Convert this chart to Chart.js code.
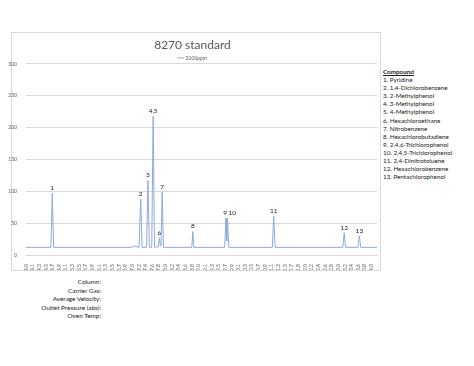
<!DOCTYPE html>
<html>
<head>
<meta charset="utf-8">
<script src="https://cdn.jsdelivr.net/npm/chart.js@4/dist/chart.umd.min.js"></script>
<style>
  body { margin: 0; background: #fff; font-family: Lato, "Liberation Sans", sans-serif; }
  #frame { position: absolute; left: 11px; top: 32px; width: 368px; height: 237px; border: 1px solid #d9d9d9; }
  #wrap { position: absolute; left: 8px; top: 32px; width: 372px; height: 238px; }
  #compounds { position: absolute; left: 383px; top: 68px; font-size: 6.3px; line-height: 8.1px; color: #222; }
  #compounds .head { font-weight: bold; text-decoration: underline; }
  #meta { position: absolute; left: 0; top: 278px; width: 101px; text-align: right; font-size: 6.4px; line-height: 8.5px; color: #222; }
</style>
</head>
<body>
<div id="frame"></div>
<div id="wrap"><canvas id="gc"></canvas></div>
<div id="compounds"></div>
<div id="meta"></div>
<script>
// retention time (min) / signal
const times  = [4.00, 4.72, 4.76, 4.80, 7.05, 7.15, 7.27, 7.32, 7.36, 7.49, 7.53, 7.57, 7.64, 7.68, 7.72,
                7.83, 7.86, 7.89, 7.91, 7.94, 7.98, 8.80, 8.83, 8.86, 9.75, 9.79, 9.81, 9.83, 9.87,
                11.13, 11.17, 11.21, 13.17, 13.21, 13.25, 13.61, 13.65, 13.69, 14.16];
const signal = [12, 12, 97, 12, 12, 14, 12, 88, 12, 12, 117, 12, 12, 218, 12,
                13, 27, 14, 15, 99, 12, 12, 37, 12, 12, 58, 22, 58, 12,
                12, 61, 12, 12, 35, 12, 12, 30, 12, 12];

const peakTimes  = [4.76, 7.32, 7.53, 7.68, 7.86, 7.94, 8.83, 9.79, 9.83, 11.17, 13.21, 13.65];
const peakHeight = [97, 88, 117, 218, 27, 99, 37, 58, 58, 61, 35, 30];
const peakLabels = ["1", "2", "3", "4,5", "6", "7", "8", "9", "10", "11", "12", "13"];
const peakAlign  = ["center", "center", "center", "center", "center", "center", "center", "right", "left", "center", "center", "center"];

const tickLabels = ["4.0","4.1","4.3","4.5","4.7","4.9","5.1","5.3","5.5","5.7","5.9","6.1","6.3","6.5","6.7","6.9",
  "7.0","7.2","7.4","7.6","7.8","8.0","8.2","8.4","8.6","8.8","9.0","9.1","9.3","9.5","9.7","9.9",
  "10.1","10.3","10.5","10.7","10.9","11.1","11.3","11.5","11.7","11.8","12.0","12.2","12.4","12.6",
  "12.8","13.0","13.2","13.4","13.6","13.8","14.0"];

const compounds = ["1. Pyridine", "2. 1,4-Dichlorobenzene", "3. 2-Methylphenol", "4. 3-Methylphenol",
  "5. 4-Methylphenol", "6. Hexachloroethane", "7. Nitrobenzene", "8. Hexachlorobutadiene",
  "9. 2,4,6-Trichlorophenol", "10. 2,4,5-Trichlorophenol", "11. 2,4-Dinitrotoluene",
  "12. Hexachlorobenzene", "13. Pentachlorophenol"];
const metaRows = ["Column:", "Carrier Gas:", "Average Velocity:", "Outlet Pressure (abs):", "Oven Temp:"];

document.getElementById("compounds").innerHTML =
  '<div class="head">Compound</div>' + compounds.map(c => "<div>" + c + "</div>").join("");
document.getElementById("meta").innerHTML = metaRows.map(r => "<div>" + r + "</div>").join("");

const FONT = "Lato, 'Liberation Sans', sans-serif";

const peakLabelPlugin = {
  id: "peakLabels",
  afterDatasetsDraw(chart) {
    const { ctx, scales: { x, y } } = chart;
    ctx.save();
    ctx.font = "6.5px " + FONT;
    ctx.fillStyle = "#222";
    ctx.textBaseline = "bottom";
    peakTimes.forEach((t, i) => {
      ctx.textAlign = peakAlign[i];
      const px = x.getPixelForValue(t) + (peakAlign[i] === "right" ? 1 : peakAlign[i] === "left" ? 1 : 0);
      ctx.fillText(peakLabels[i], px, y.getPixelForValue(peakHeight[i]) - 2);
    });
    ctx.restore();
  }
};

// keep the legend strip thin, like the spreadsheet original
const legendHeightPlugin = {
  id: "legendHeight",
  beforeLayout(chart) {
    const lg = chart.legend;
    if (!lg || lg._thin) return;
    const fit = lg.fit;
    lg.fit = function () { fit.call(this); this.height = 11.5; };
    lg._thin = true;
  }
};

new Chart(document.getElementById("gc"), {
  type: "line",
  plugins: [peakLabelPlugin, legendHeightPlugin],
  data: {
    datasets: [{
      label: "2000ppm",
      data: times.map((t, i) => ({ x: t, y: signal[i] })),
      borderColor: "#8eaadb",
      backgroundColor: "#8eaadb",
      borderWidth: 1,
      pointRadius: 0,
      tension: 0
    }]
  },
  options: {
    responsive: true,
    maintainAspectRatio: false,
    animation: false,
    layout: { padding: { left: 0, right: 3, top: 0, bottom: 0 } },
    plugins: {
      title: {
        display: true,
        text: "8270 standard",
        color: "#595959",
        font: { family: FONT, size: 12, weight: "normal" },
        padding: { top: 6, bottom: 0 }
      },
      legend: {
        display: true,
        labels: {
          color: "#595959",
          font: { family: FONT, size: 5 },
          usePointStyle: true,
          pointStyle: "line",
          boxWidth: 12,
          padding: 3
        }
      },
      tooltip: { enabled: false }
    },
    scales: {
      x: {
        type: "linear",
        min: 4.0,
        max: 14.16,
        afterBuildTicks: axis => {
          axis.ticks = tickLabels.map((l, i) => ({ value: 4 + i * 10 / 52 }));
        },
        afterFit: axis => { axis.height = 15; },
        ticks: {
          color: "#595959",
          font: { family: FONT, size: 5 },
          maxRotation: 90,
          minRotation: 90,
          autoSkip: false,
          padding: 1,
          callback: (v, i) => tickLabels[i]
        },
        grid: { display: false },
        border: { color: "#d9d9d9" }
      },
      y: {
        min: 0,
        max: 300,
        afterFit: axis => { axis.width = 18; },
        ticks: {
          stepSize: 50,
          color: "#595959",
          font: { family: FONT, size: 5 },
          padding: 9
        },
        grid: { color: "#d9d9d9", drawTicks: false },
        border: { display: false }
      }
    }
  }
});
</script>
</body>
</html>
